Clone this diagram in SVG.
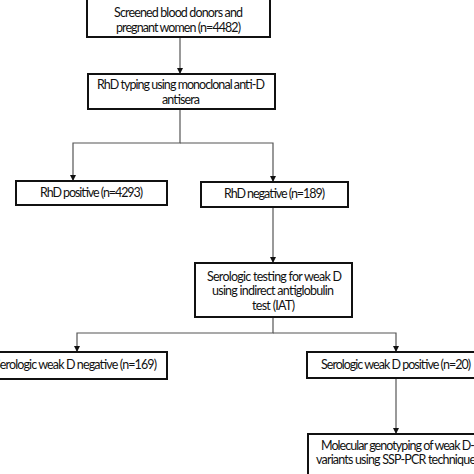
<svg xmlns="http://www.w3.org/2000/svg" width="474" height="474" viewBox="0 0 474 474">
<style>
.box{fill:#fff;stroke:#111;stroke-width:2}
.t{font-family:Lato,"Open Sans","Liberation Sans",sans-serif;font-size:12.5px;fill:#111}
.c{fill:none;stroke:#555;stroke-width:1.2}
</style>
<defs>
<marker id="ah" viewBox="0 0 10 10" refX="10" refY="5" markerWidth="6" markerHeight="6" markerUnits="userSpaceOnUse" orient="auto">
<path d="M0,0 L10,5 L0,10 Z" fill="#111"/>
</marker>
</defs>
<rect width="474" height="474" fill="#fff"/>
<g id="connectors">
<line class="c" x1="180" y1="37" x2="180" y2="74" marker-end="url(#ah)"/>
<polyline class="c" points="180,109 180,143 73,143 73,181" marker-end="url(#ah)"/>
<polyline class="c" points="180,143 273,143 273,182" marker-end="url(#ah)"/>
<line class="c" x1="273" y1="207" x2="273" y2="263" marker-end="url(#ah)"/>
<polyline class="c" points="273,317 273,333 77,333 77,352" marker-end="url(#ah)"/>
<polyline class="c" points="273,333 396,333 396,352" marker-end="url(#ah)"/>
<line class="c" x1="396" y1="379" x2="396" y2="434" marker-end="url(#ah)"/>
</g>
<g id="n1">
<rect class="box" x="87" y="-2" width="183" height="39"/>
<text class="t" x="114" y="17" textLength="129">Screened blood donors and</text>
<text class="t" x="116" y="32" textLength="125">pregnant women (n=4482)</text>
</g>
<g id="n2">
<rect class="box" x="88" y="74" width="187" height="35"/>
<text class="t" x="97" y="89" textLength="168">RhD typing using monoclonal anti-D</text>
<text class="t" x="162" y="104" textLength="38">antisera</text>
</g>
<g id="n3">
<rect class="box" x="16" y="181" width="151" height="24"/>
<text class="t" x="40" y="197" textLength="103">RhD positive (n=4293)</text>
</g>
<g id="n4">
<rect class="box" x="201" y="182" width="147" height="25"/>
<text class="t" x="224" y="198" textLength="101">RhD negative (n=189)</text>
</g>
<g id="n5">
<rect class="box" x="195" y="263" width="157" height="54"/>
<text class="t" x="207" y="281" textLength="135">Serologic testing for weak D</text>
<text class="t" x="212" y="295" textLength="122">using indirect antiglobulin</text>
<text class="t" x="252" y="310" textLength="43">test (IAT)</text>
</g>
<g id="n6">
<rect class="box" x="-10" y="352" width="177" height="27"/>
<text class="t" x="-6" y="369" textLength="163">Serologic weak D negative (n=169)</text>
</g>
<g id="n7">
<rect class="box" x="307" y="352" width="180" height="26"/>
<text class="t" x="321" y="369" textLength="150">Serologic weak D positive (n=20)</text>
</g>
<g id="n8">
<rect class="box" x="308" y="434" width="180" height="50"/>
<text class="t" x="321" y="450" textLength="154">Molecular genotyping of weak D-</text>
<text class="t" x="316" y="464" textLength="160">variants using SSP-PCR technique</text>
</g>
</svg>
